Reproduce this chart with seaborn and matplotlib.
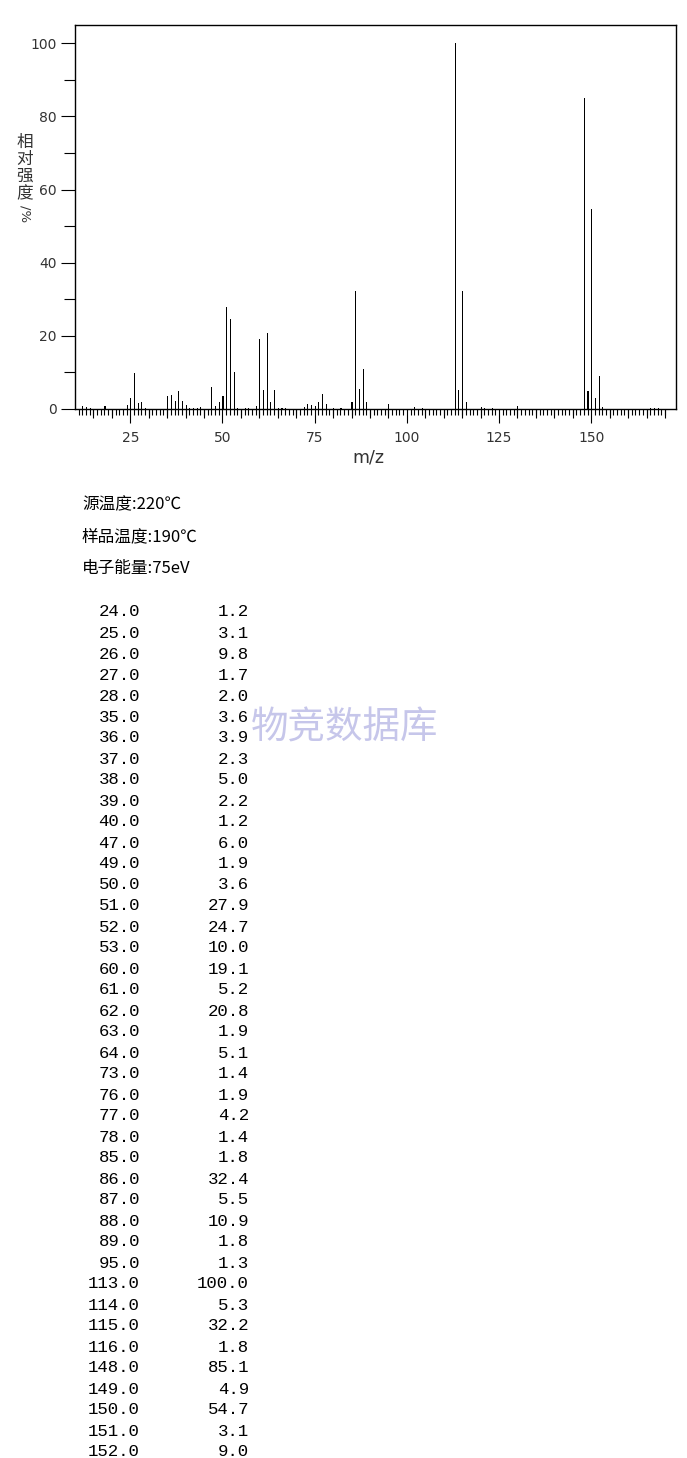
import matplotlib
matplotlib.use("Agg")
import matplotlib.pyplot as plt
import seaborn as sns
import numpy as np
from matplotlib.ticker import MultipleLocator, FixedLocator, NullFormatter

# peaks listed in the table
mz = [24, 25, 26, 27, 28, 35, 36, 37, 38, 39, 40, 47, 49, 50, 51, 52, 53,
      60, 61, 62, 63, 64, 73, 76, 77, 78, 85, 86, 87, 88, 89, 95,
      113, 114, 115, 116, 148, 149, 150, 151, 152]
intensity = [1.2, 3.1, 9.8, 1.7, 2.0, 3.6, 3.9, 2.3, 5.0, 2.2, 1.2, 6.0, 1.9, 3.6,
             27.9, 24.7, 10.0, 19.1, 5.2, 20.8, 1.9, 5.1, 1.4, 1.9, 4.2, 1.4,
             1.8, 32.4, 5.5, 10.9, 1.8, 1.3, 100.0, 5.3, 32.2, 1.8,
             85.1, 4.9, 54.7, 3.1, 9.0]

# small peaks only seen in the spectrum (estimated)
small_mz = [12, 13, 14, 18, 29, 41, 42, 43, 44, 48, 54, 56, 57, 59, 65, 66, 67,
            72, 74, 75, 80, 82, 102, 104, 120, 121, 123, 130, 153, 166, 167, 168]
small_int = [0.7, 0.5, 0.4, 0.9, 0.4, 0.4, 0.4, 0.4, 0.5, 0.7, 0.3, 0.3, 0.3, 0.8,
             0.3, 0.3, 0.3, 0.5, 1.0, 0.9, 0.3, 0.3, 0.5, 0.3, 0.5, 0.4, 0.3,
             0.7, 0.5, 0.3, 0.3, 0.3]

info_lines = ["源温度:220℃", "样品温度:190℃", "电子能量:75eV"]

sns.set_theme(style="white")
plt.rcParams['font.family'] = ['Noto Sans CJK SC', 'DejaVu Sans']

W, H = 687, 1458
fig = plt.figure(figsize=(W / 100, H / 100), dpi=100)
ax = fig.add_axes([75 / W, 1 - 409 / H, (676 - 75) / W, (409 - 25) / H])

all_mz = mz + small_mz
all_int = intensity + small_int
sns.barplot(x=all_mz, y=all_int, native_scale=True, width=0.02, color="black",
            edgecolor="black", linewidth=0.72, saturation=1, ax=ax)
for p in ax.patches:
    p.set_antialiased(False)

ax.set_xlim(10, 173)
ax.set_ylim(0, 105)
for s in ax.spines.values():
    s.set_color("black")
    s.set_linewidth(1.0)

ax.xaxis.set_major_locator(FixedLocator([25, 50, 75, 100, 125, 150]))
ax.xaxis.set_minor_locator(FixedLocator(np.arange(11, 171)))
ax.yaxis.set_major_locator(MultipleLocator(20))
ax.yaxis.set_minor_locator(MultipleLocator(10))
ax.tick_params(axis="both", which="both", direction="out", color="black", width=0.8,
               bottom=True, left=True, top=False, right=False)
ax.tick_params(axis="x", which="major", length=10, labelsize=10, pad=6)
ax.tick_params(axis="x", which="minor", length=4)
ax.tick_params(axis="y", which="major", length=10, labelsize=10, pad=3)
ax.tick_params(axis="y", which="minor", length=8)
for lab in ax.get_xticklabels() + ax.get_yticklabels():
    lab.set_family("DejaVu Sans")
    lab.set_color("#333333")

# medium ticks every 5
sec = ax.secondary_xaxis("bottom")
sec.xaxis.set_major_locator(FixedLocator([v for v in range(15, 171, 5) if v % 25]))
sec.xaxis.set_major_formatter(NullFormatter())
sec.tick_params(axis="x", length=6.5, width=0.8, color="black")
sec.spines["bottom"].set_visible(False)

ax.set_xlabel("")
ax.set_ylabel("")
fig.text(368 / W, 1 - 457 / H, "m/z", ha="center", va="center", fontsize=12.5,
         family="DejaVu Sans", color="#333333")
fig.text(25 / W, 1 - 168 / H, "相\n对\n强\n度", ha="center", va="center",
         fontsize=12, linespacing=1.0, color="#333333")
fig.text(25 / W, 1 - 214 / H, "/%", ha="center", va="center", fontsize=9.5,
         rotation=-90, family="DejaVu Sans", color="#333333")

for i, line in enumerate(info_lines):
    fig.text(82 / W, 1 - (505 + 31.5 * i) / H, line, ha="left", va="center",
             fontsize=12, family=['Noto Sans CJK SC', 'DejaVu Sans'], color="black")

# watermark
fig.text(345 / W, 1 - 728 / H, "物竞数据库", ha="center", va="center",
         fontsize=27, color="#c6c6ea", zorder=0)

for i, (m, v) in enumerate(zip(mz, intensity)):
    y = 1 - (612 + 21 * i) / H
    fig.text(140 / W, y, f"{m:.1f}", ha="right", va="center", fontsize=12.5,
             family="Liberation Mono", color="black")
    fig.text(249 / W, y, f"{v:.1f}", ha="right", va="center", fontsize=12.5,
             family="Liberation Mono", color="black")

fig.savefig("out.png", dpi=100, facecolor="white")
